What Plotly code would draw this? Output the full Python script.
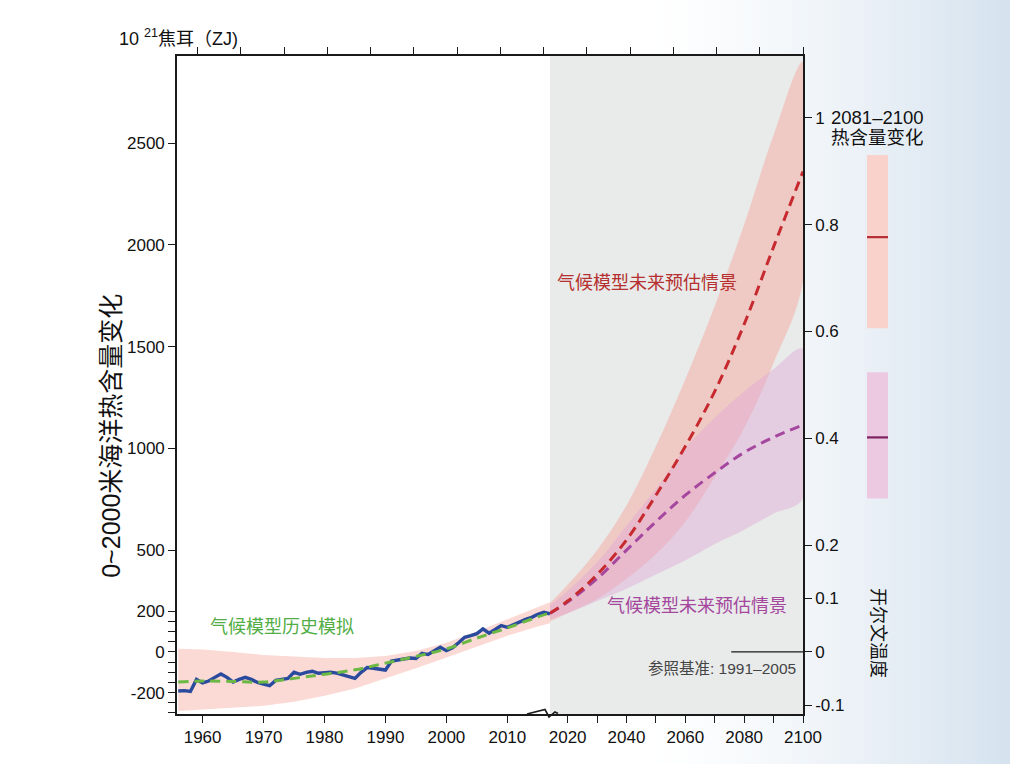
import plotly.graph_objects as go

# ---------------- data ----------------
obs_years = list(range(1956, 2018))
obs_ohc = [-192, -190, -194, -135, -152, -143, -125, -108, -125, -148,
           -135, -125, -135, -150, -158, -166, -140, -135, -130, -100,
           -110, -100, -95, -105, -102, -100, -104, -112, -122, -130,
           -100, -77, -80, -85, -89, -45, -40, -34, -30, -32,
           -7, -13, 5, 23, 6, 20, 45, 72, 80, 90,
           113, 92, 110, 129, 121, 135, 150, 160, 170, 185,
           195, 187]

model_years = [1956, 1960, 1965, 1970, 1975, 1980, 1985, 1990, 1995, 2000, 2005, 2010, 2015, 2017]
model_mean = [-148, -143, -145, -148, -130, -110, -88, -55, -22, 15, 68, 118, 172, 192]
model_upper = [15, 12, 0, -15, -23, -30, -30, -20, 5, 45, 100, 160, 220, 244]
model_lower = [-290, -285, -275, -265, -245, -215, -180, -130, -80, -27, 25, 80, 125, 141]

future_years = [2014, 2020, 2030, 2040, 2050, 2060, 2070, 2080, 2090, 2100]
high_mean = [190, 250, 380, 550, 770, 1010, 1280, 1610, 1990, 2360]
high_upper = [240, 330, 500, 720, 1010, 1340, 1700, 2100, 2540, 2900]
high_lower = [150, 190, 260, 360, 480, 640, 860, 1100, 1420, 1820]
low_mean = [190, 245, 360, 500, 640, 770, 880, 980, 1055, 1115]
low_upper = [230, 300, 440, 620, 800, 1000, 1150, 1280, 1390, 1490]
low_lower = [160, 190, 250, 310, 380, 450, 530, 600, 680, 754]

# 2081-2100 heat content change (ZJ): low, median, high
high_bar = [1590, 2038, 2441]
low_bar = [754, 1054, 1374]

left_major = [-200, 0, 200, 500, 1000, 1500, 2000, 2500]
left_minor = [-300, -250, -150, -100, -50, 50, 100, 150]
kelvin_ticks = [-0.1, 0, 0.1, 0.2, 0.4, 0.6, 0.8, 1]
hist_ticks = [1960, 1970, 1980, 1990, 2000, 2010]
future_labels = [2020, 2040, 2060, 2080, 2100]
future_minor = [2030, 2050, 2070, 2090]
baseline_start = 2075.6

ZJ_PER_K = 2624.0
Y_RANGE = [-305, 2928]

# ---------------- layout helpers ----------------
W, H = 1010, 764
ML, MR, MT, MB = 177, 10, 56, 50
PW, PH = W - ML - MR, H - MT - MB


def px_x(px):
    return (px - ML) / PW


def px_y(py):
    return (H - MB - py) / PH


FONT = "Liberation Sans, Arial, 'Noto Sans CJK SC', sans-serif"
AX = "#1a1a1a"

fig = go.Figure()

# historical model band
fig.add_trace(go.Scatter(
    x=model_years + model_years[::-1], y=model_upper + model_lower[::-1],
    fill="toself", fillcolor="rgba(246,170,160,0.45)", line=dict(width=0),
    mode="lines", hoverinfo="skip", showlegend=False, xaxis="x", yaxis="y"))
# observations
fig.add_trace(go.Scatter(
    x=obs_years, y=obs_ohc, mode="lines", line=dict(color="#2a4a9e", width=3.4),
    showlegend=False, xaxis="x", yaxis="y"))
# model mean
fig.add_trace(go.Scatter(
    x=model_years, y=model_mean, mode="lines", line_shape="spline",
    line=dict(color="#6cb844", width=3, dash="10px,6px"),
    showlegend=False, xaxis="x", yaxis="y"))

# future bands
fig.add_trace(go.Scatter(
    x=future_years + future_years[::-1], y=high_upper + high_lower[::-1],
    fill="toself", fillcolor="rgba(246,165,152,0.45)", line=dict(width=0, shape="spline"),
    mode="lines", hoverinfo="skip", showlegend=False, xaxis="x2", yaxis="y"))
fig.add_trace(go.Scatter(
    x=future_years + future_years[::-1], y=low_upper + low_lower[::-1],
    fill="toself", fillcolor="rgba(222,165,212,0.42)", line=dict(width=0, shape="spline"),
    mode="lines", hoverinfo="skip", showlegend=False, xaxis="x2", yaxis="y"))
fig.add_trace(go.Scatter(
    x=future_years, y=low_mean, mode="lines",
    line=dict(color="#a6479f", width=3, dash="10px,6px", shape="spline"),
    showlegend=False, xaxis="x2", yaxis="y"))
fig.add_trace(go.Scatter(
    x=future_years, y=high_mean, mode="lines",
    line=dict(color="#c62a2f", width=3, dash="10px,6px", shape="spline"),
    showlegend=False, xaxis="x2", yaxis="y"))
# reference baseline
fig.add_trace(go.Scatter(
    x=[baseline_start, future_years[-1]], y=[0, 0], mode="lines",
    line=dict(color=AX, width=1.3), showlegend=False, xaxis="x2", yaxis="y"))

# right kelvin axis anchor trace
fig.add_trace(go.Scatter(x=[future_years[-1]], y=[0], mode="markers", marker=dict(opacity=0),
                         hoverinfo="skip", showlegend=False, xaxis="x2", yaxis="y2"))
# top tick axis anchor trace
fig.add_trace(go.Scatter(x=[0], y=[0], mode="markers", marker=dict(opacity=0),
                         hoverinfo="skip", showlegend=False, xaxis="x4", yaxis="y"))

# 2081-2100 bars
fig.add_trace(go.Bar(x=[0], y=[high_bar[2] - high_bar[0]], base=[high_bar[0]], width=1,
                     marker=dict(color="#f9d3cb", line=dict(width=0)),
                     showlegend=False, xaxis="x3", yaxis="y"))
fig.add_trace(go.Bar(x=[0], y=[low_bar[2] - low_bar[0]], base=[low_bar[0]], width=1,
                     marker=dict(color="#edc8e1", line=dict(width=0)),
                     showlegend=False, xaxis="x3", yaxis="y"))
fig.add_trace(go.Scatter(x=[-0.5, 0.5], y=[high_bar[1]] * 2, mode="lines",
                         line=dict(color="#b52d34", width=2.2), showlegend=False,
                         xaxis="x3", yaxis="y"))
fig.add_trace(go.Scatter(x=[-0.5, 0.5], y=[low_bar[1]] * 2, mode="lines",
                         line=dict(color="#7a2260", width=2.2), showlegend=False,
                         xaxis="x3", yaxis="y"))

# ---------------- shapes ----------------
shapes = []
# soft blue background toward the right
n = 46
x_start, x_end = 640, W
for i in range(n):
    a = x_start + (x_end - x_start) * i / n
    b = x_start + (x_end - x_start) * (i + 1) / n
    t = ((i + 0.5) / n) ** 1.4
    r = round(255 + (213 - 255) * t)
    g = round(255 + (226 - 255) * t)
    bl = round(255 + (238 - 255) * t)
    shapes.append(dict(type="rect", xref="paper", yref="paper", layer="below",
                       x0=px_x(a), x1=px_x(b) + 0.002, y0=px_y(H), y1=px_y(0),
                       fillcolor=f"rgb({r},{g},{bl})", line=dict(width=0)))
# grey future area
shapes.append(dict(type="rect", xref="x2 domain", yref="y domain", layer="below",
                   x0=0, x1=1, y0=0, y1=1, fillcolor="#e9eaea", line=dict(width=0)))
# axis break mark
brk = [(527, 714), (545, 709.5), (549, 717), (555, 712), (558, 713.5)]
path = "M " + " L ".join(f"{px_x(a)},{px_y(b)}" for a, b in brk)
shapes.append(dict(type="path", xref="paper", yref="paper", path=path,
                   line=dict(color=AX, width=1.6)))

# ---------------- annotations ----------------
ann = []
ann.append(dict(text="10 <sup>21</sup>焦耳（ZJ)", xref="paper", yref="paper",
                x=px_x(117), y=px_y(37), xanchor="left", yanchor="middle",
                showarrow=False, font=dict(size=18, color="#111")))
ann.append(dict(text="0~2000米海洋热含量变化", xref="paper", yref="y",
                x=px_x(111), y=1062, textangle=-90, xanchor="center", yanchor="middle",
                showarrow=False, font=dict(size=25, color="#111")))
ann.append(dict(text="气候模型历史模拟", xref="x", yref="y", x=1960.9, y=124,
                xanchor="left", yanchor="middle", showarrow=False,
                font=dict(size=18, color="#52ad45")))
ann.append(dict(text="气候模型未来预估情景", xref="x2", yref="y", x=2015.7, y=1811,
                xanchor="left", yanchor="middle", showarrow=False,
                font=dict(size=18, color="#b5302e")))
ann.append(dict(text="气候模型未来预估情景", xref="x2", yref="y", x=2032.7, y=228,
                xanchor="left", yanchor="middle", showarrow=False,
                font=dict(size=18, color="#a4479d")))
ann.append(dict(text="参照基准: 1991–2005", xref="x2", yref="y", x=2098.4, y=-79,
                xanchor="right", yanchor="middle", showarrow=False,
                font=dict(size=15.5, color="#444")))
ann.append(dict(text="2081–2100", xref="x3", yref="y", x=0, y=2628,
                xanchor="center", yanchor="middle", showarrow=False,
                font=dict(size=18.5, color="#111")))
ann.append(dict(text="热含量变化", xref="x3", yref="y", x=0, y=2530,
                xanchor="center", yanchor="middle", showarrow=False,
                font=dict(size=18.5, color="#111")))
ann.append(dict(text="开尔文温度", xref="x3", yref="y", x=0, y=96, textangle=90,
                xanchor="center", yanchor="middle", showarrow=False,
                font=dict(size=18, color="#111")))

tickstyle = dict(ticks="outside", tickcolor=AX, tickwidth=1.4, ticklen=7)
common = dict(showgrid=False, zeroline=False, showline=True, linecolor=AX, linewidth=1.6,
              automargin=False, tickfont=dict(size=17, color="#111"), **tickstyle)

fig.update_layout(
    template="none",
    width=W, height=H, autosize=False, margin=dict(l=ML, r=MR, t=MT, b=MB, pad=0, autoexpand=False),
    paper_bgcolor="white", plot_bgcolor="rgba(0,0,0,0)",
    font=dict(family=FONT, color="#111"),
    showlegend=False, barmode="overlay",
    xaxis=dict(domain=[0, px_x(550)], range=[1955.8, 2017.0], anchor="y",
               tickvals=hist_ticks, ticktext=[str(v) for v in hist_ticks], **common),
    xaxis2=dict(domain=[px_x(550), px_x(803)], range=[2014, 2100], anchor="y",
                tickvals=future_labels, ticktext=[str(v) for v in future_labels],
                minor=dict(tickvals=future_minor, **tickstyle), **common),
    xaxis3=dict(domain=[px_x(867), px_x(888)], range=[-0.5, 0.5], anchor="y", visible=False,
                automargin=False),
    xaxis4=dict(domain=[0, px_x(803)], range=[-0.479, 14], anchor="y", side="top",
                tickvals=list(range(15)), showticklabels=False,
                **{k: v for k, v in common.items() if k != "tickfont"}),
    yaxis=dict(domain=[0, 1], range=Y_RANGE, anchor="x", tickvals=left_major,
               ticktext=[str(v) for v in left_major],
               minor=dict(tickvals=left_minor, **tickstyle), **common),
    yaxis2=dict(range=[Y_RANGE[0] / ZJ_PER_K, Y_RANGE[1] / ZJ_PER_K], overlaying="y",
                anchor="x2", side="right", tickvals=kelvin_ticks,
                ticktext=[f"{v:g}" for v in kelvin_ticks], **common),
    shapes=shapes, annotations=ann,
)

fig.write_html("out.html", config={"responsive": False})
